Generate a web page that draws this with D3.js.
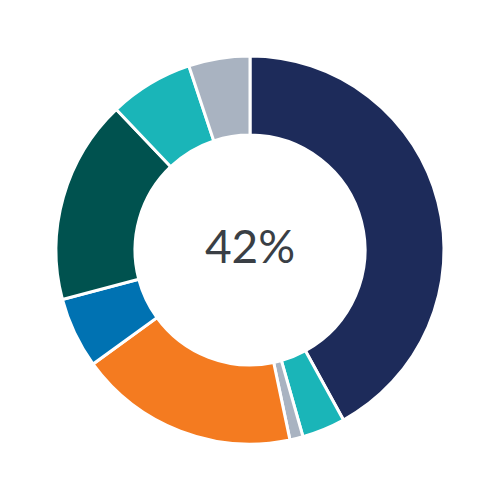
<!DOCTYPE html>
<html>
<head>
<meta charset="utf-8">
<script src="https://cdn.jsdelivr.net/npm/d3@7"></script>
<style>
  body { margin: 0; background: #fff; }
</style>
</head>
<body>
<svg></svg>
<script>
const width = 500;
const height = 500;

// slice values in percent, clockwise from 12 o'clock
const categories = ["A", "B", "C", "D", "E", "F", "G", "H"];
const values = [42, 3.6, 1.1, 18.3, 5.9, 17, 7, 5.1];
const colors = ["#1d2b5a", "#1ab5b8", "#a9b3c1", "#f47b20", "#0072b2", "#00524f", "#1ab5b8", "#a9b3c1"];
const centerLabel = "42%";

let svg = d3.select("svg").attr("width", width).attr("height", height);
let g = svg.append("g").attr("transform", `translate(${width / 2},${height / 2})`);

const pie = d3.pie().sort(null).value((d) => d.value);
const arc = d3.arc().innerRadius(115).outerRadius(194);

const data = categories.map((c, i) => ({ name: c, value: values[i] }));

g.selectAll("path")
    .data(pie(data))
    .join("path")
    .attr("d", arc)
    .attr("fill", (d, i) => colors[i])
    .attr("stroke", "#fff")
    .attr("stroke-width", 3);

g.append("text")
    .attr("text-anchor", "middle")
    .attr("y", 13)
    .attr("font-family", "Lato, sans-serif")
    .attr("font-weight", 400)
    .attr("font-size", 46)
    .attr("fill", "#3a3f45")
    .text(centerLabel);
</script>
</body>
</html>
